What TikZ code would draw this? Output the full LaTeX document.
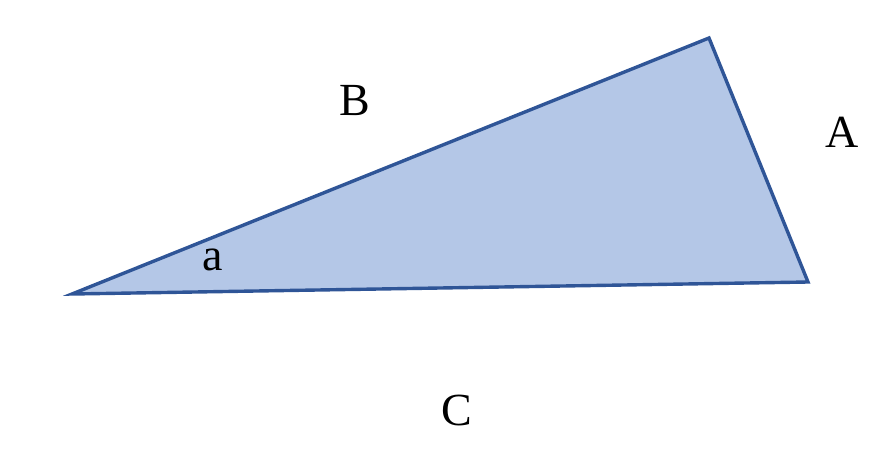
\documentclass[tikz,border=0pt]{standalone}
\usepackage{fontspec}
\setmainfont{Liberation Serif}
\definecolor{triFill}{HTML}{B4C7E7}
\definecolor{triEdge}{HTML}{2F5597}
\begin{document}
\begin{tikzpicture}[x=1pt,y=-1pt, every node/.style={font=\fontsize{46}{52}\selectfont, inner sep=0pt}]
		\useasboundingbox (0,0) rectangle (886,466);
		% Vertices
		\coordinate (p) at (72,294);
		\coordinate (q) at (709,38);
		\coordinate (r) at (808,282);
		% Triangle
		\filldraw[fill=triFill,draw=triEdge,line width=3.4pt,line join=miter] (p) -- (q) -- (r) -- cycle;
		% Labels
		\node (labB) at (355,101) {B};
		\node (labA) at (842,132) {A};
		\node (laba) at (213,260) {a};
		\node (labC) at (457,410) {C};
		\end{tikzpicture}
\end{document}
